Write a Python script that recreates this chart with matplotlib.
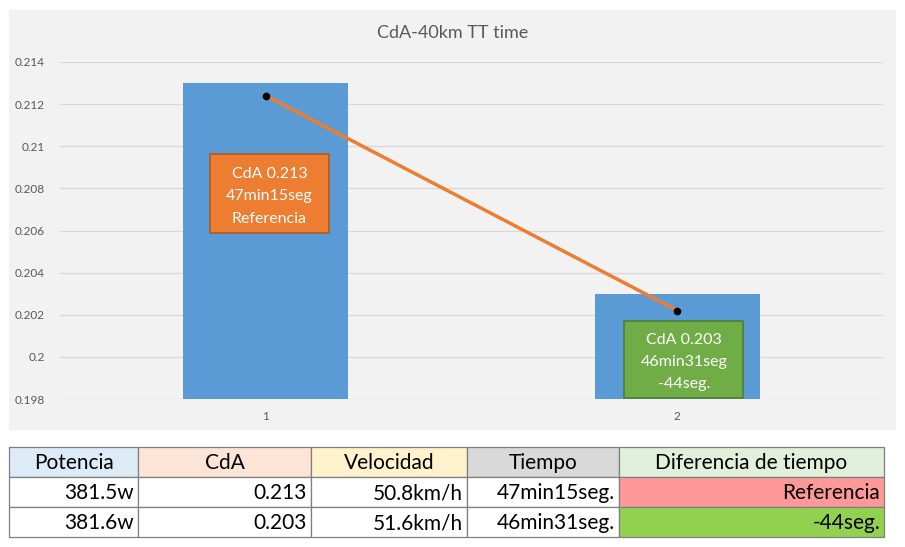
import matplotlib.pyplot as plt
from matplotlib.patches import Rectangle

plt.rcParams['font.family'] = ['Lato', 'DejaVu Sans']

# chart data
categories = ['1', '2']
cda_values = [0.213, 0.203]
line_values = [0.2124, 0.2022]
box_texts = ['CdA 0.213\n47min15seg\nReferencia', 'CdA 0.203\n46min31seg\n-44seg.']
yticks = [0.198, 0.2, 0.202, 0.204, 0.206, 0.208, 0.21, 0.212, 0.214]
ytick_labels = ['0.198', '0.2', '0.202', '0.204', '0.206', '0.208', '0.21', '0.212', '0.214']

# table data
headers = ['Potencia', 'CdA', 'Velocidad', 'Tiempo', 'Diferencia de tiempo']
row1 = ['381.5w', '0.213', '50.8km/h', '47min15seg.', 'Referencia']
row2 = ['381.6w', '0.203', '51.6km/h', '46min31seg.', '-44seg.']

W, H = 905, 547
fig = plt.figure(figsize=(W / 100, H / 100), dpi=100)
fig.patch.set_facecolor('white')

def px_axes(x0, y0, x1, y1):
    return [x0 / W, 1 - y1 / H, (x1 - x0) / W, (y1 - y0) / H]

# chart area background
bg = fig.add_axes(px_axes(9, 10, 896, 430))
bg.set_facecolor('#F2F2F2')
bg.set_xticks([])
bg.set_yticks([])
for s in bg.spines.values():
    s.set_visible(False)

ax = fig.add_axes(px_axes(60, 62, 883, 399))
ax.set_facecolor('none')
x = list(range(len(categories)))
ax.bar(x, cda_values, width=0.4, color='#5B9BD5', zorder=2)
ax.plot(x, line_values, color='#ED7D31', lw=2.5, zorder=3,
        marker='o', markersize=4.5, markerfacecolor='black', markeredgecolor='black')
ax.set_xlim(-0.5, 1.5)
ax.set_ylim(0.198, 0.214)
ax.set_yticks(yticks)
ax.set_yticklabels(ytick_labels)
ax.set_xticks(x)
ax.set_xticklabels(categories)
ax.tick_params(axis='both', length=0, labelsize=8.5, labelcolor='#595959')
ax.tick_params(axis='y', pad=11)
ax.tick_params(axis='x', pad=9)
ax.grid(axis='y', color='#D9D9D9', lw=0.9, zorder=1)
ax.set_axisbelow(True)
for s in ax.spines.values():
    s.set_visible(False)

# label boxes
box_specs = [
    (0.009, 0.20586, 0.20962, '#ED7D31', '#AE5A21'),
    (1.016, 0.19805, 0.20171, '#70AD47', '#507E32'),
]
for (cx, y0, y1, fc, ec), txt in zip(box_specs, box_texts):
    w = 0.289
    rect = Rectangle((cx - w / 2, y0), w, y1 - y0, facecolor=fc, edgecolor=ec,
                     lw=1.2, zorder=4)
    ax.add_patch(rect)
    t = ax.text(cx, (y0 + y1) / 2 - 0.00012, txt, ha='center', va='center', color='white',
                fontsize=11.5, linespacing=1.75, zorder=5)
    t.set_clip_path(rect)

fig.text(453 / W, 1 - 33 / H, 'CdA-40km TT time', ha='center', va='center',
         fontsize=13, color='#595959')

# table
tax = fig.add_axes(px_axes(9, 447, 884, 537))
tax.set_xlim(9, 884)
tax.set_ylim(537, 447)
tax.axis('off')
col_edges = [9, 138, 311, 467, 619, 884]
row_edges = [447, 477, 507, 537]
header_colors = ['#DDEBF7', '#FCE4D6', '#FFF2CC', '#D9D9D9', '#E2EFDA']
diff_colors = ['#FF9999', '#92D050']

for r, cells in enumerate([headers, row1, row2]):
    y0, y1 = row_edges[r], row_edges[r + 1]
    for c, val in enumerate(cells):
        x0, x1 = col_edges[c], col_edges[c + 1]
        if r == 0:
            fc = header_colors[c]
        elif c == 4:
            fc = diff_colors[r - 1]
        else:
            fc = 'white'
        tax.add_patch(Rectangle((x0, y0), x1 - x0, y1 - y0, facecolor=fc,
                                edgecolor='#7F7F7F', lw=0.9, clip_on=False))
        if r == 0:
            tax.text((x0 + x1) / 2, (y0 + y1) / 2 + 1, val, ha='center', va='center',
                     fontsize=15, color='black')
        else:
            tax.text(x1 - 4, (y0 + y1) / 2 + 1, val, ha='right', va='center',
                     fontsize=15, color='black')

fig.savefig('out.png', dpi=100)
